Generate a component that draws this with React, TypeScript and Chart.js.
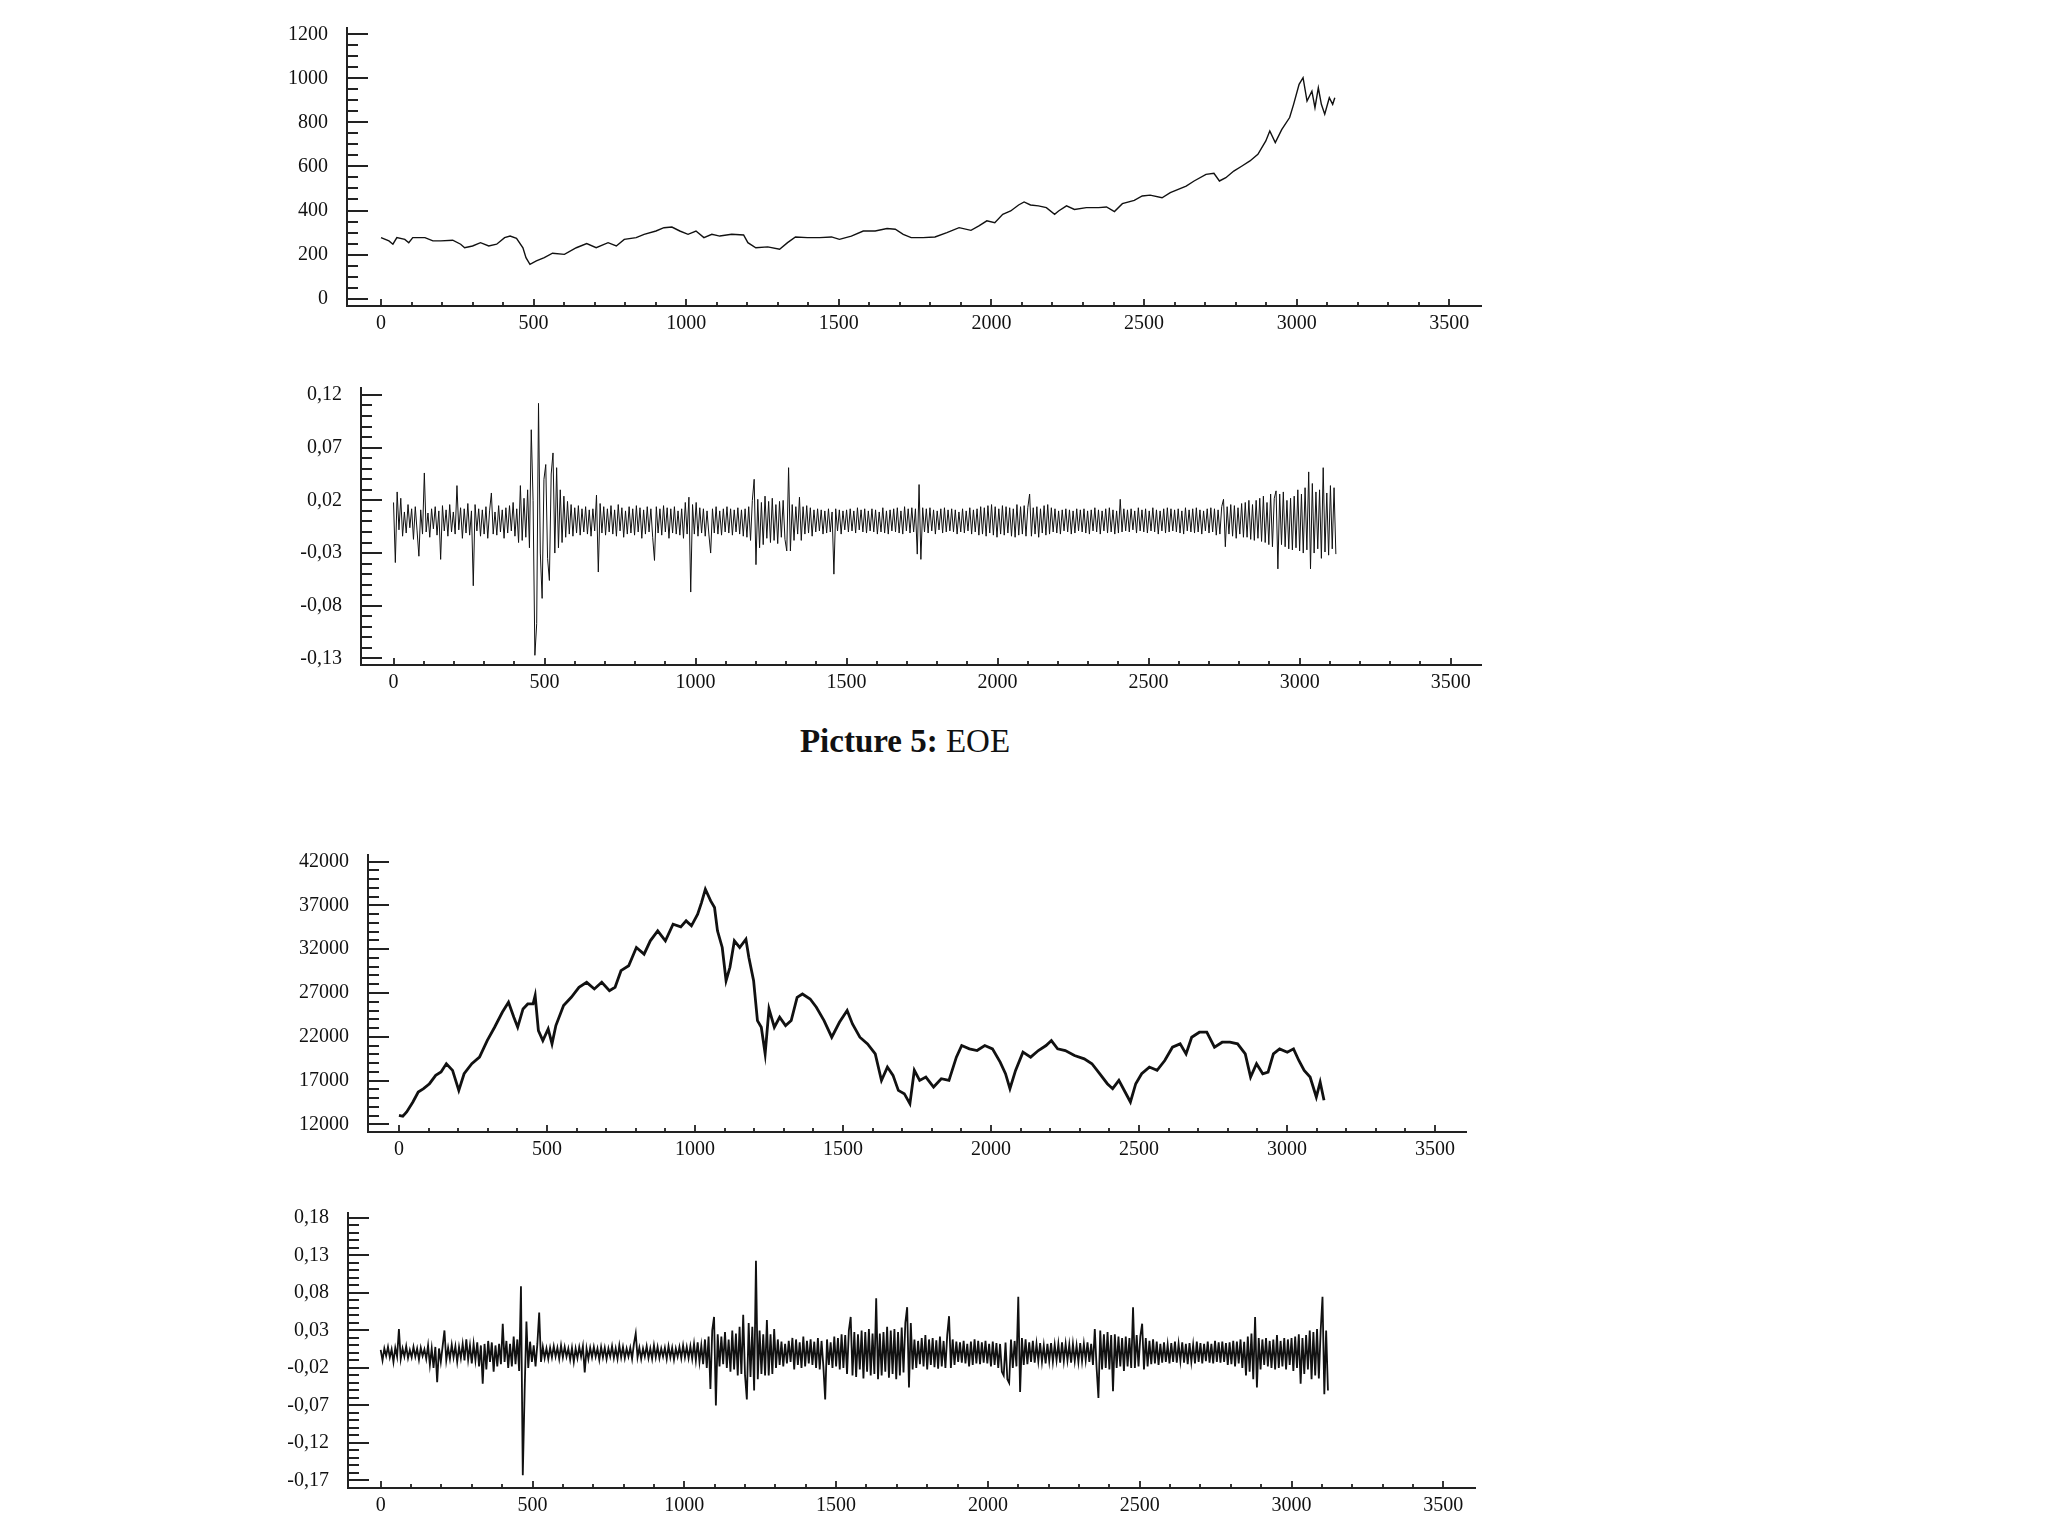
import React, { useEffect, useRef } from "react";
import { Chart, registerables } from "chart.js";

Chart.register(...registerables);

// ---------------- DATA ----------------
const X_MAJOR = [0, 500, 1000, 1500, 2000, 2500, 3000, 3500];

// Panel 1: EOE index level
const EOE_PRICE_X = [0, 26, 39, 52, 78, 91, 104, 144, 170, 196, 235, 261, 274, 300, 326, 353, 379, 405, 423, 444, 465, 475, 488, 509, 535, 562, 601, 640, 674, 705, 744, 771, 797, 836, 862, 901, 927, 953, 979, 1006, 1032, 1058, 1084, 1110, 1149, 1188, 1202, 1228, 1267, 1306, 1332, 1358, 1397, 1437, 1476, 1502, 1541, 1580, 1619, 1658, 1685, 1711, 1737, 1776, 1815, 1854, 1894, 1933, 1959, 1985, 2011, 2037, 2063, 2089, 2107, 2128, 2154, 2180, 2207, 2220, 2246, 2272, 2311, 2351, 2377, 2403, 2429, 2468, 2494, 2520, 2559, 2586, 2612, 2638, 2664, 2703, 2729, 2747, 2768, 2794, 2821, 2847, 2873, 2899, 2912, 2930, 2951, 2977, 2990, 3008, 3021, 3034, 3050, 3060, 3071, 3081, 3092, 3107, 3118, 3125];
const EOE_PRICE_Y = [277, 262, 247, 277, 269, 254, 277, 277, 262, 262, 265, 247, 231, 239, 254, 239, 247, 277, 284, 274, 231, 186, 156, 171, 186, 206, 201, 231, 250, 231, 254, 239, 269, 277, 292, 307, 322, 325, 307, 292, 307, 277, 292, 284, 292, 289, 254, 231, 235, 224, 254, 280, 277, 277, 280, 269, 284, 307, 307, 318, 315, 292, 277, 277, 280, 300, 322, 310, 330, 353, 345, 383, 398, 425, 439, 425, 421, 413, 383, 398, 421, 405, 413, 413, 416, 395, 431, 446, 466, 470, 458, 481, 496, 511, 534, 564, 569, 534, 549, 579, 602, 625, 655, 716, 761, 708, 767, 822, 882, 973, 1003, 897, 942, 867, 957, 882, 837, 912, 882, 912];

// Returns are sampled every RET_STEP observations
const RET_STEP = 6;

// Panel 2: EOE returns
const EOE_RET = [
  0.018, -0.039, 0.028, -0.008, 0.022, -0.014, 0.009, -0.011, 0.016, -0.006,
  0.012, -0.017, 0.014, -0.009, -0.033, 0.011, -0.012, 0.046, -0.010, 0.008,
  -0.015, 0.012, -0.007, 0.014, -0.013, 0.010, -0.036, 0.015, -0.009, 0.011,
  -0.014, 0.016, -0.010, 0.009, -0.012, 0.034, -0.008, 0.013, -0.016, 0.012,
  -0.011, 0.017, -0.013, 0.010, -0.061, 0.016, -0.009, 0.012, -0.014, 0.011,
  -0.012, 0.014, -0.016, 0.010, 0.027, -0.012, 0.009, -0.013, 0.015, -0.010,
  0.011, -0.016, 0.013, -0.011, 0.015, -0.009, 0.018, -0.014, 0.012, -0.020,
  0.034, -0.018, 0.022, -0.015, 0.030, -0.025, 0.087, 0.020, -0.127, -0.097,
  0.112, -0.030, -0.073, 0.040, 0.054, -0.035, -0.056, 0.045, 0.065, -0.030,
  0.051, -0.025, 0.030, -0.020, 0.024, -0.015, 0.019, -0.012, 0.016, -0.014,
  0.013, -0.011, 0.015, -0.013, 0.012, -0.010, 0.014, -0.012, 0.011, -0.014,
  0.012, -0.009, 0.025, -0.048, 0.017, -0.011, 0.014, -0.013, 0.012, -0.010,
  0.015, -0.012, 0.011, -0.014, 0.016, -0.009, 0.013, -0.015, 0.010, -0.012,
  0.014, -0.011, 0.012, -0.013, 0.015, -0.010, 0.013, -0.016, 0.011, -0.012,
  0.014, -0.010, 0.012, -0.015, -0.037, 0.014, -0.011, 0.012, -0.013, 0.015,
  -0.010, 0.013, -0.016, 0.012, -0.011, 0.014, -0.012, 0.010, -0.013, 0.012,
  -0.016, 0.018, -0.012, 0.023, -0.067, 0.016, -0.012, 0.018, -0.014, 0.013,
  -0.011, 0.012, -0.014, 0.010, -0.012, -0.030, 0.012, -0.011, 0.014, -0.012,
  0.010, -0.013, 0.012, -0.010, 0.014, -0.011, 0.012, -0.013, 0.011, -0.010,
  0.013, -0.012, 0.011, -0.014, 0.012, -0.015, 0.014, -0.018, 0.020, 0.040,
  -0.041, 0.021, -0.025, 0.018, -0.022, 0.024, -0.016, 0.019, -0.020, 0.022,
  -0.018, 0.016, -0.021, 0.019, -0.015, 0.020, -0.017, -0.028, 0.051, -0.028,
  0.016, -0.018, 0.014, -0.012, 0.023, -0.018, 0.014, -0.012, 0.015, -0.011,
  0.013, -0.014, 0.011, -0.010, 0.012, -0.009, 0.011, -0.012, 0.010, -0.011,
  0.012, -0.010, 0.009, -0.050, 0.012, -0.009, 0.011, -0.012, 0.010, -0.008,
  0.011, -0.010, 0.012, -0.009, 0.010, -0.011, 0.013, -0.008, 0.011, -0.010,
  0.012, -0.011, 0.010, -0.009, 0.012, -0.010, 0.011, -0.012, 0.009, -0.010,
  0.013, -0.011, 0.010, -0.012, 0.011, -0.009, 0.012, -0.010, 0.013, -0.011,
  0.010, -0.012, 0.014, -0.009, 0.012, -0.011, 0.013, -0.010, 0.012, -0.031,
  0.035, -0.036, 0.013, -0.010, 0.012, -0.011, 0.013, -0.009, 0.011, -0.012,
  0.010, -0.008, 0.012, -0.011, 0.013, -0.010, 0.011, -0.009, 0.012, -0.010,
  0.011, -0.012, 0.009, -0.010, 0.012, -0.011, 0.010, -0.009, 0.013, -0.012,
  0.011, -0.010, 0.012, -0.013, 0.014, -0.012, 0.013, -0.014, 0.015, -0.011,
  0.016, -0.013, 0.014, -0.015, 0.012, -0.012, 0.015, -0.013, 0.014, -0.011,
  0.013, -0.014, 0.012, -0.015, 0.016, -0.013, 0.014, -0.012, 0.015, -0.014,
  0.013, 0.026, -0.014, 0.013, -0.012, 0.014, -0.015, 0.012, -0.011, 0.015,
  -0.013, 0.016, -0.012, 0.013, -0.010, 0.012, -0.011, 0.010, -0.012, 0.011,
  -0.009, 0.012, -0.010, 0.011, -0.012, 0.010, -0.011, 0.012, -0.009, 0.011,
  -0.010, 0.012, -0.011, 0.010, -0.012, 0.011, -0.009, 0.013, -0.010, 0.011,
  -0.012, 0.010, -0.009, 0.012, -0.011, 0.013, -0.010, 0.011, -0.012, 0.010,
  -0.011, 0.021, -0.010, 0.012, -0.009, 0.011, -0.010, 0.012, -0.008, 0.010,
  -0.011, 0.013, -0.009, 0.011, -0.010, 0.012, -0.011, 0.010, -0.009, 0.013,
  -0.010, 0.011, -0.012, 0.010, -0.009, 0.012, -0.011, 0.013, -0.010, 0.012,
  -0.009, 0.011, -0.010, 0.012, -0.011, 0.010, -0.012, 0.013, -0.009, 0.011,
  -0.010, 0.012, -0.011, 0.013, -0.010, 0.011, -0.012, 0.010, -0.009, 0.012,
  -0.011, 0.013, -0.010, 0.012, -0.013, 0.011, -0.012, 0.014, 0.021, -0.024,
  0.014, -0.012, 0.016, -0.014, 0.015, -0.016, 0.013, -0.012, 0.017, -0.015,
  0.018, -0.015, 0.020, -0.017, 0.016, -0.018, 0.020, -0.016, 0.022, -0.019,
  0.024, -0.020, 0.018, -0.022, 0.026, -0.024, 0.022, 0.029, -0.045, 0.026,
  -0.022, 0.028, -0.024, 0.020, -0.026, 0.022, -0.027, 0.024, -0.025, 0.030,
  -0.028, 0.026, -0.030, 0.032, -0.027, 0.047, -0.045, 0.036, -0.030, 0.028,
  -0.026, 0.030, -0.035, 0.051, -0.029, 0.027, -0.032, 0.034, -0.026, 0.032,
  -0.031,
];

// Panel 3: second index level
const IDX_PRICE_X = [0, 13, 26, 47, 65, 83, 103, 124, 142, 160, 181, 202, 220, 246, 272, 298, 323, 349, 370, 388, 401, 419, 435, 453, 460, 471, 486, 504, 517, 530, 556, 582, 608, 634, 660, 685, 711, 730, 750, 776, 802, 828, 849, 874, 900, 926, 952, 970, 988, 1009, 1022, 1035, 1053, 1066, 1076, 1092, 1105, 1118, 1133, 1151, 1172, 1182, 1198, 1211, 1224, 1237, 1250, 1268, 1286, 1306, 1325, 1345, 1363, 1389, 1410, 1436, 1462, 1488, 1514, 1532, 1557, 1583, 1609, 1630, 1650, 1669, 1687, 1707, 1726, 1741, 1759, 1780, 1806, 1832, 1858, 1883, 1901, 1927, 1953, 1979, 2005, 2031, 2049, 2064, 2083, 2108, 2134, 2160, 2186, 2204, 2225, 2251, 2282, 2315, 2341, 2367, 2393, 2411, 2432, 2453, 2471, 2489, 2509, 2535, 2561, 2587, 2613, 2639, 2659, 2678, 2704, 2729, 2755, 2781, 2807, 2833, 2859, 2877, 2897, 2918, 2936, 2954, 2975, 3001, 3022, 3040, 3058, 3078, 3099, 3112, 3125];
const IDX_PRICE_Y = [13030, 12920, 13410, 14550, 15690, 16070, 16640, 17590, 17970, 18920, 18160, 15880, 17780, 18920, 19670, 21570, 23090, 24800, 25940, 24230, 23090, 25180, 25750, 25750, 26700, 22710, 21570, 22900, 21190, 23280, 25560, 26510, 27650, 28220, 27460, 28220, 27270, 27650, 29550, 30120, 32200, 31440, 32960, 34100, 32960, 34860, 34560, 35240, 34670, 36000, 37330, 38850, 37520, 36760, 34100, 32200, 28410, 29930, 32960, 32200, 33150, 31060, 28410, 23850, 23090, 20050, 25180, 23090, 24230, 23280, 23850, 26510, 26890, 26320, 25370, 23850, 21950, 23660, 24990, 23470, 21950, 21190, 20050, 17010, 18540, 17590, 15880, 15500, 14360, 18160, 17010, 17400, 16260, 17210, 17010, 19670, 21000, 20620, 20430, 21000, 20620, 19100, 17780, 16070, 18160, 20240, 19670, 20430, 21000, 21570, 20620, 20430, 19860, 19480, 18920, 17780, 16640, 16070, 17010, 15690, 14550, 16640, 17780, 18540, 18160, 19290, 20810, 21190, 20050, 21950, 22520, 22520, 20810, 21380, 21380, 21190, 20050, 17400, 18920, 17780, 17970, 20050, 20620, 20240, 20620, 19290, 18160, 17400, 15120, 16830, 14740];

// Panel 4: second index returns
const IDX_RET = [
  0.004, -0.010, 0.006, -0.004, 0.008, -0.006, 0.005, -0.012, 0.007, -0.005,
  0.032, -0.008, 0.006, -0.005, 0.009, -0.007, 0.004, -0.006, 0.008, -0.005,
  0.006, -0.009, 0.007, -0.004, 0.005, -0.008, 0.010, -0.016, 0.006, -0.020,
  0.008, -0.039, 0.006, -0.012, 0.009, 0.030, -0.010, 0.007, -0.008, 0.011,
  -0.006, 0.009, -0.012, 0.008, -0.007, 0.012, -0.010, 0.018, -0.009, 0.010,
  -0.014, 0.012, -0.010, 0.014, -0.018, 0.010, -0.041, 0.012, -0.022, 0.016,
  -0.012, 0.014, -0.025, 0.010, -0.018, 0.012, -0.015, 0.039, -0.012, 0.016,
  -0.020, 0.012, -0.018, 0.022, -0.015, 0.018, -0.024, 0.089, -0.163, -0.052,
  0.042, -0.020, 0.015, -0.012, 0.010, -0.018, 0.012, 0.054, -0.012, 0.008,
  -0.007, 0.006, -0.008, 0.007, -0.006, 0.009, -0.005, 0.007, -0.008, 0.010,
  -0.006, 0.008, -0.005, 0.006, -0.009, 0.007, -0.012, 0.006, -0.007, 0.008,
  -0.005, 0.009, -0.026, 0.006, -0.008, 0.007, -0.006, 0.008, -0.005, 0.006,
  -0.009, 0.008, -0.006, 0.007, -0.008, 0.006, -0.005, 0.009, -0.007, 0.006,
  -0.008, 0.010, -0.006, 0.008, -0.007, 0.006, -0.005, 0.007, -0.008, 0.012,
  0.026, -0.006, 0.007, -0.008, 0.006, -0.005, 0.009, -0.007, 0.006, -0.008,
  0.010, -0.006, 0.008, -0.007, 0.006, -0.005, 0.007, -0.008, 0.009, -0.006,
  0.007, -0.009, 0.006, -0.005, 0.008, -0.007, 0.010, -0.006, 0.008, -0.007,
  0.009, -0.008, 0.012, -0.010, 0.014, -0.012, 0.010, -0.015, 0.018, -0.020,
  0.022, -0.048, 0.030, 0.048, -0.070, 0.025, -0.018, 0.022, -0.015, 0.028,
  -0.020, 0.018, -0.025, 0.030, -0.022, 0.026, -0.030, 0.035, -0.028, 0.051,
  -0.030, -0.062, 0.040, -0.032, 0.035, -0.050, 0.123, -0.035, 0.030, -0.028,
  0.025, -0.030, 0.044, -0.030, 0.025, -0.028, 0.032, -0.020, 0.018, -0.016,
  0.015, -0.018, 0.012, -0.014, 0.016, -0.012, 0.020, -0.022, 0.018, -0.016,
  0.014, -0.020, 0.022, -0.018, 0.016, -0.014, 0.018, -0.016, 0.015, -0.020,
  0.020, -0.022, 0.016, -0.018, -0.062, 0.018, -0.016, 0.014, -0.020, 0.022,
  -0.018, 0.020, -0.022, 0.025, -0.020, 0.024, -0.028, 0.030, 0.048, -0.030,
  0.028, -0.032, 0.025, -0.022, 0.030, -0.034, 0.028, -0.025, 0.032, -0.030,
  0.026, -0.028, 0.073, -0.035, 0.026, -0.030, 0.028, -0.025, 0.035, -0.033,
  0.030, -0.028, 0.032, -0.035, 0.028, -0.030, 0.034, -0.026, 0.040, 0.061,
  -0.046, 0.040, -0.022, 0.018, -0.020, 0.016, -0.015, 0.020, -0.018, 0.024,
  -0.022, 0.018, -0.016, 0.020, -0.019, 0.017, -0.021, 0.022, -0.018, 0.016,
  -0.020, 0.024, 0.049, -0.020, 0.018, -0.016, 0.015, -0.012, 0.014, -0.013,
  0.016, -0.014, 0.012, -0.018, 0.015, -0.016, 0.018, -0.014, 0.016, -0.015,
  0.014, -0.013, 0.016, -0.014, 0.012, -0.018, 0.015, -0.016, 0.013, -0.020,
  0.012, -0.025, -0.030, 0.014, -0.035, -0.040, 0.018, -0.020, 0.016, -0.018,
  0.075, -0.052, 0.020, -0.016, 0.018, -0.015, 0.014, -0.012, 0.016, -0.013,
  0.012, -0.011, 0.013, -0.012, 0.010, -0.014, 0.012, -0.011, 0.013, -0.012,
  0.011, -0.010, 0.012, -0.013, 0.014, -0.011, 0.012, -0.010, 0.011, -0.013,
  0.012, -0.011, 0.010, -0.012, 0.013, -0.011, 0.012, -0.010, 0.014, -0.012,
  0.012, -0.016, 0.032, -0.020, -0.060, 0.030, -0.022, 0.025, -0.020, 0.028,
  -0.022, 0.024, -0.051, 0.025, -0.020, 0.022, -0.018, 0.020, -0.024, 0.022,
  -0.018, 0.020, -0.020, 0.061, -0.020, 0.024, -0.018, 0.022, 0.039, -0.022,
  0.020, -0.018, 0.016, -0.015, 0.018, -0.014, 0.015, -0.016, 0.012, -0.013,
  0.014, -0.012, 0.011, -0.014, 0.013, -0.012, 0.015, -0.013, 0.012, -0.011,
  0.014, -0.013, 0.012, -0.015, 0.013, -0.012, 0.011, -0.014, 0.015, -0.012,
  0.013, -0.014, 0.012, -0.011, 0.015, -0.013, 0.012, -0.014, 0.016, -0.012,
  0.014, -0.013, 0.015, -0.012, 0.013, -0.016, 0.014, -0.015, 0.016, -0.018,
  0.015, -0.014, 0.018, -0.020, 0.015, -0.030, 0.022, -0.025, 0.026, -0.035,
  0.048, -0.046, 0.020, -0.022, 0.018, -0.016, 0.020, -0.018, 0.016, -0.020,
  0.018, -0.022, 0.024, -0.020, 0.016, -0.018, 0.020, -0.022, 0.018, -0.016,
  0.020, -0.024, 0.022, -0.020, 0.025, -0.041, 0.020, -0.028, 0.024, -0.022,
  0.030, -0.035, 0.028, -0.030, 0.032, -0.034, 0.030, 0.075, -0.055, 0.030,
  -0.050,
];

// Y tick labels
const EOE_PRICE_TICKS = [0, 200, 400, 600, 800, 1000, 1200];
const EOE_RET_TICKS = [-0.13, -0.08, -0.03, 0.02, 0.07, 0.12];
const IDX_PRICE_TICKS = [12000, 17000, 22000, 27000, 32000, 37000, 42000];
const IDX_RET_TICKS = [-0.17, -0.12, -0.07, -0.02, 0.03, 0.08, 0.13, 0.18];

const CAPTION_BOLD = "Picture 5:";
const CAPTION_TEXT = "EOE";

// ---------------- LAYOUT ----------------
const FONT = '"Liberation Serif", "Times New Roman", serif';
const PAD_TOP = 30;
const X_AXIS_H = 50;

type Pt = { x: number; y: number };
type PanelSpec = {
  key: string;
  box: { left: number; right: number; top: number; bottom: number };
  xMin: number;
  xMax: number;
  yMin: number;
  yMax: number;
  yMajor: number[];
  yMinorFrom: number;
  yMinorTo: number;
  yMinorStep: number;
  fmt: (v: number) => string;
  data: Pt[];
  lw: number;
};

const zip = (xs: number[], ys: number[]): Pt[] =>
  xs.slice(0, Math.min(xs.length, ys.length)).map((x, i) => ({ x, y: ys[i] }));
const stepped = (ys: number[]): Pt[] => ys.map((y, i) => ({ x: i * RET_STEP, y }));
const comma = (v: number) => v.toFixed(2).replace(".", ",");
const intFmt = (v: number) => String(Math.round(v));

const PANELS: PanelSpec[] = [
  {
    key: "p1",
    box: { left: 347, right: 1481, top: 27, bottom: 306 },
    xMin: -111.4, xMax: 3604,
    yMin: -33.5, yMax: 1228.5,
    yMajor: EOE_PRICE_TICKS, yMinorFrom: 0, yMinorTo: 1200, yMinorStep: 50,
    fmt: intFmt, data: zip(EOE_PRICE_X, EOE_PRICE_Y), lw: 1.4,
  },
  {
    key: "p2",
    box: { left: 361, right: 1481, top: 387, bottom: 665 },
    xMin: -107.7, xMax: 3600.5,
    yMin: -0.1362, yMax: 0.1266,
    yMajor: EOE_RET_TICKS, yMinorFrom: -0.13, yMinorTo: 0.12, yMinorStep: 0.01,
    fmt: comma, data: stepped(EOE_RET), lw: 1.0,
  },
  {
    key: "p3",
    box: { left: 368, right: 1466, top: 854, bottom: 1132 },
    xMin: -104.7, xMax: 3604.7,
    yMin: 11123, yMax: 42763,
    yMajor: IDX_PRICE_TICKS, yMinorFrom: 12000, yMinorTo: 42000, yMinorStep: 1000,
    fmt: intFmt, data: zip(IDX_PRICE_X, IDX_PRICE_Y), lw: 2.8,
  },
  {
    key: "p4",
    box: { left: 348, right: 1475, top: 1212, bottom: 1488 },
    xMin: -107.7, xMax: 3604.3,
    yMin: -0.1801, yMax: 0.1866,
    yMajor: IDX_RET_TICKS, yMinorFrom: -0.17, yMinorTo: 0.18, yMinorStep: 0.01,
    fmt: comma, data: stepped(IDX_RET), lw: 1.8,
  },
];

function PanelChart({ p }: { p: PanelSpec }) {
  const ref = useRef<HTMLCanvasElement>(null);
  const h = p.box.bottom - p.box.top + PAD_TOP + X_AXIS_H;

  useEffect(() => {
    const canvas = ref.current;
    if (!canvas) return;

    const tickPlugin = {
      id: "axisTicks" + p.key,
      afterDraw(chart: any) {
        const { ctx, chartArea, scales } = chart;
        const xs = scales.x;
        const ys = scales.y;
        ctx.save();
        ctx.strokeStyle = "#222";
        ctx.lineWidth = 2;
        ctx.beginPath();
        const n = Math.round((p.yMinorTo - p.yMinorFrom) / p.yMinorStep);
        for (let i = 0; i <= n; i++) {
          const v = p.yMinorFrom + i * p.yMinorStep;
          const major = p.yMajor.some((m) => Math.abs(m - v) < p.yMinorStep / 10);
          const py = Math.round(ys.getPixelForValue(v));
          ctx.moveTo(chartArea.left, py);
          ctx.lineTo(chartArea.left + (major ? 21 : 11), py);
        }
        ctx.stroke();
        ctx.beginPath();
        ctx.lineWidth = 1.8;
        for (let v = 0; v <= 3500; v += 100) {
          const major = X_MAJOR.includes(v);
          const px = Math.round(xs.getPixelForValue(v));
          ctx.moveTo(px, chartArea.bottom);
          ctx.lineTo(px, chartArea.bottom - (major ? 7 : 4));
        }
        ctx.stroke();
        ctx.restore();
      },
    };

    const tickFont = { family: FONT, size: 20 };

    const chart = new Chart(canvas, {
      type: "line",
      data: {
        datasets: [
          {
            data: p.data as any,
            borderColor: "#111",
            borderWidth: p.lw,
            pointRadius: 0,
            pointHoverRadius: 0,
            tension: 0,
            fill: false,
          },
        ],
      },
      options: {
        animation: false,
        responsive: false,
        devicePixelRatio: 1,
        events: [],
        layout: {
          padding: { left: 0, right: 2048 - p.box.right, top: PAD_TOP, bottom: 0 },
        },
        plugins: {
          legend: { display: false },
          tooltip: { enabled: false },
          title: { display: false },
        },
        scales: {
          x: {
            type: "linear",
            min: p.xMin,
            max: p.xMax,
            afterBuildTicks: (s: any) => {
              s.ticks = X_MAJOR.map((v) => ({ value: v }));
            },
            afterFit: (s: any) => {
              s.height = X_AXIS_H;
            },
            grid: { display: false, drawTicks: false },
            border: { display: true, color: "#222", width: 2 },
            ticks: {
              padding: 6,
              color: "#111",
              font: tickFont,
              maxRotation: 0,
              autoSkip: false,
              callback: (v: any) => intFmt(Number(v)),
            },
          },
          y: {
            type: "linear",
            min: p.yMin,
            max: p.yMax,
            afterBuildTicks: (s: any) => {
              s.ticks = p.yMajor.map((v) => ({ value: v }));
            },
            afterFit: (s: any) => {
              s.width = p.box.left;
            },
            grid: { display: false, drawTicks: false },
            border: { display: true, color: "#222", width: 2 },
            ticks: {
              padding: 19,
              color: "#111",
              font: tickFont,
              autoSkip: false,
              callback: (v: any) => p.fmt(Number(v)),
            },
          },
        },
      },
      plugins: [tickPlugin],
    } as any);

    return () => chart.destroy();
  }, [p]);

  return (
    <canvas
      ref={ref}
      width={2048}
      height={h}
      style={{
        position: "absolute",
        left: 0,
        top: p.box.top - PAD_TOP,
        width: 2048,
        height: h,
        display: "block",
      }}
    />
  );
}

export default function App() {
  return (
    <div
      style={{
        position: "absolute",
        left: 0,
        top: 0,
        width: 2048,
        height: 1536,
        background: "#fff",
        overflow: "hidden",
      }}
    >
      {PANELS.map((p) => (
        <PanelChart key={p.key} p={p} />
      ))}
      <div
        style={{
          position: "absolute",
          left: 905,
          top: 725,
          transform: "translateX(-50%)",
          fontFamily: FONT,
          fontSize: 33,
          lineHeight: 1,
          color: "#111",
          whiteSpace: "nowrap",
        }}
      >
        <span style={{ fontWeight: "bold" }}>{CAPTION_BOLD}</span> {CAPTION_TEXT}
      </div>
    </div>
  );
}
